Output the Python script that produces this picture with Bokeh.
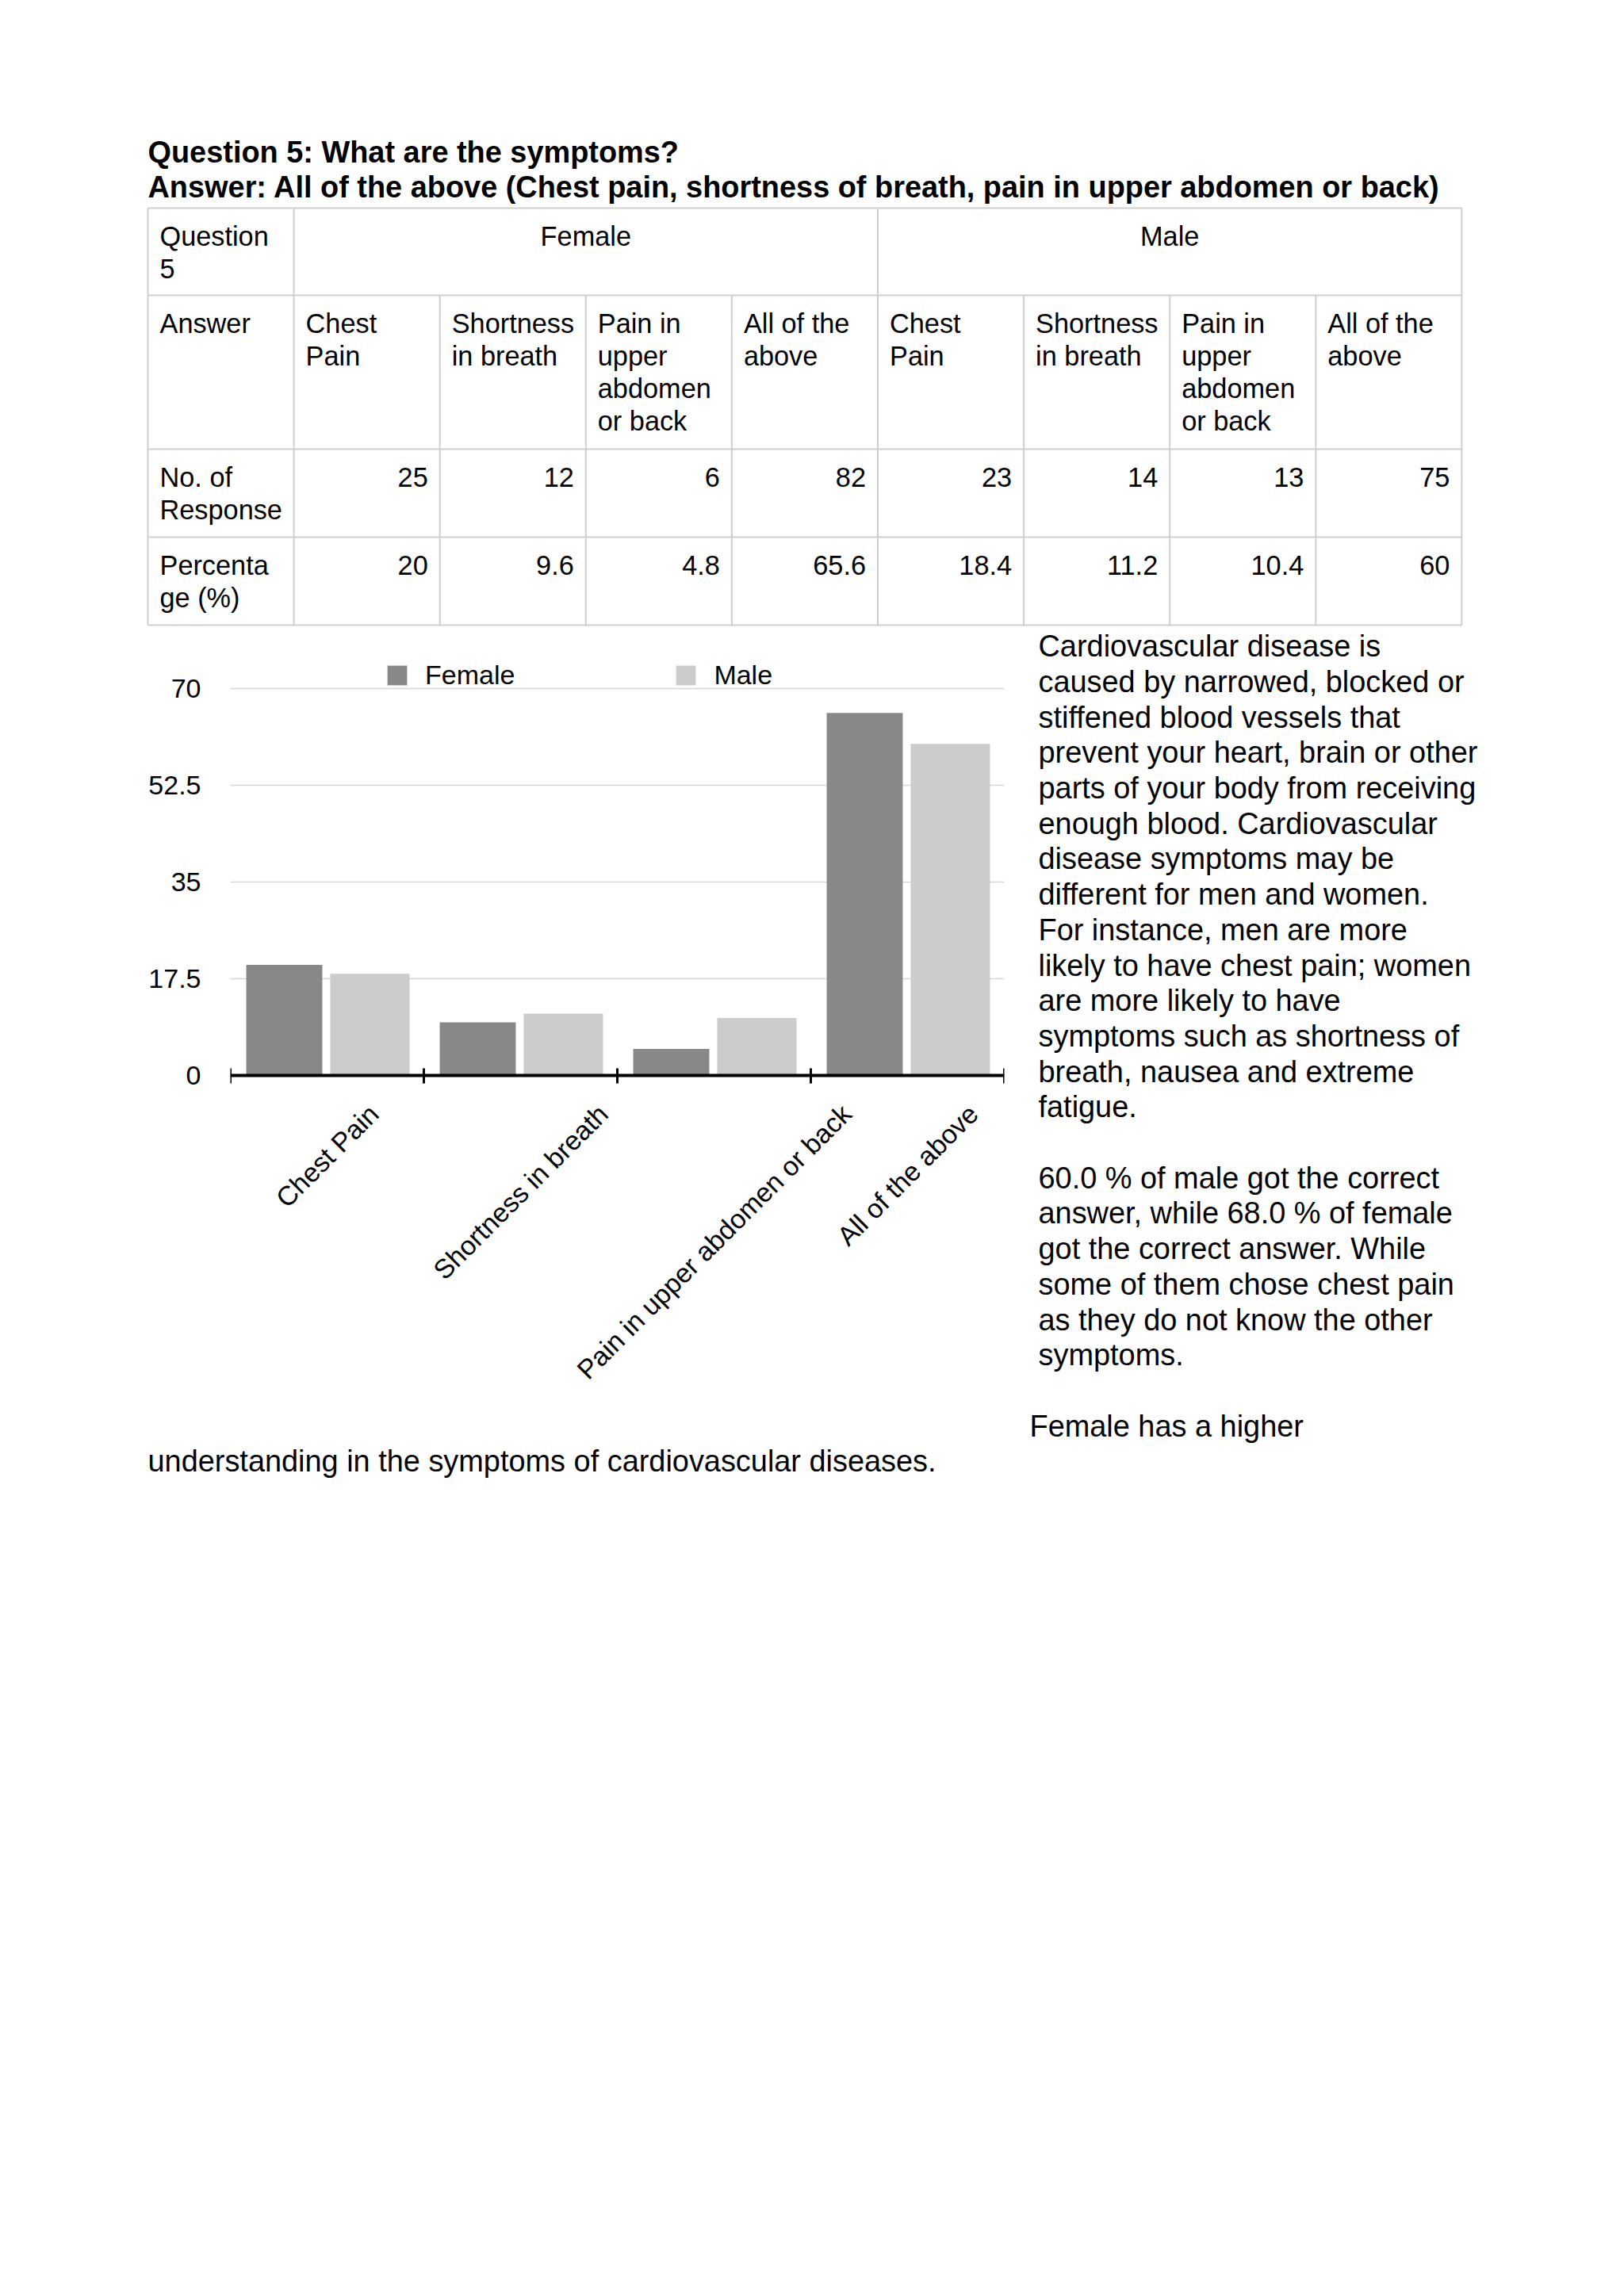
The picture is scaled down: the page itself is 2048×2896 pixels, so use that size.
import math
from bokeh.plotting import figure
from bokeh.models import (Range1d, FixedTicker, LinearAxis, Legend, LegendItem,
                          NumeralTickFormatter, CustomJSTickFormatter)
from bokeh.layouts import column, row
from bokeh.embed import file_html
from bokeh.resources import INLINE
from bokeh.core.properties import value

# ---------------- data ----------------
categories = ["Chest Pain", "Shortness in breath",
              "Pain in upper abdomen or back", "All of the above"]
answer_cells = [["Chest", "Pain"], ["Shortness", "in breath"],
                ["Pain in", "upper", "abdomen", "or back"], ["All of the", "above"]]
series = ["Female", "Male"]
female_counts = [25, 12, 6, 82]
male_counts = [23, 14, 13, 75]
female_pct = [20, 9.6, 4.8, 65.6]
male_pct = [18.4, 11.2, 10.4, 60]
y_ticks = [0, 17.5, 35, 52.5, 70]
y_tick_labels = ["0", "17.5", "35", "52.5", "70"]

title_lines = ["Question 5: What are the symptoms?",
               "Answer: All of the above (Chest pain, shortness of breath, pain in upper abdomen or back)"]
right_lines = [
    "Cardiovascular disease is",
    "caused by narrowed, blocked or",
    "stiffened blood vessels that",
    "prevent your heart, brain or other",
    "parts of your body from receiving",
    "enough blood. Cardiovascular",
    "disease symptoms may be",
    "different for men and women.",
    "For instance, men are more",
    "likely to have chest pain; women",
    "are more likely to have",
    "symptoms such as shortness of",
    "breath, nausea and extreme",
    "fatigue.",
    "",
    "60.0 % of male got the correct",
    "answer, while 68.0 % of female",
    "got the correct answer. While",
    "some of them chose chest pain",
    "as they do not know the other",
    "symptoms.",
]
closing_1 = "Female has a higher"
closing_2 = "understanding in the symptoms of cardiovascular diseases."

# ---------------- styles / layout ----------------
FONT = "Liberation Sans"
BODY_PX = 37.9
SMALL_PX = 34.3
F_COLOR = "#888888"
M_COLOR = "#cccccc"
GRID_COLOR = "#d6d6d6"
RULE_COLOR = "#cfcfcf"

M = 0
PAGE_R = 2040
TOP_Y1 = 792
MID_Y1 = 1774
BOT_Y1 = 2800
SPLIT_X = 1280

LEFT_X = 186
BODY_BASE0 = 828
BODY_LH = 44.7
MID_RATIO = 0.35   # distance from baseline to em-box middle, in em


def page_fig(x0, x1, y0, y1):
    f = figure(width=int(x1 - x0), height=int(y1 - y0),
               x_range=Range1d(x0, x1), y_range=Range1d(y1, y0),
               output_backend="svg", toolbar_location=None,
               x_axis_location=None, y_axis_location=None,
               min_border=0, outline_line_color=None,
               border_fill_color="white", background_fill_color="white")
    f.grid.visible = False
    return f


def txt(f, xs, baselines, texts, size_px, align="left", bold=False):
    ys = [b - MID_RATIO * size_px for b in baselines]
    f.text(x=xs, y=ys, text=texts, text_font=value(FONT), text_font_size=f"{size_px}px",
           text_align=align, text_baseline="middle", text_color="black",
           text_font_style="bold" if bold else "normal")


# ---------------- top: title + table ----------------
top = page_fig(M, PAGE_R, M, TOP_Y1)
txt(top, [LEFT_X, LEFT_X], [205, 249], title_lines, BODY_PX, bold=True)

COL_X = [186 + 184.1 * k for k in range(10)]
ROW_Y = [262, 372, 566, 677, 788]
PAD = 15
FIRST = 48
LH = 41

hx0, hy0, hx1, hy1 = [], [], [], []
for y in ROW_Y:
    hx0.append(COL_X[0]); hx1.append(COL_X[-1]); hy0.append(y); hy1.append(y)
for k in [0, 1, 5, 9]:
    hx0.append(COL_X[k]); hx1.append(COL_X[k]); hy0.append(ROW_Y[0]); hy1.append(ROW_Y[1])
for k in range(10):
    hx0.append(COL_X[k]); hx1.append(COL_X[k]); hy0.append(ROW_Y[1]); hy1.append(ROW_Y[4])
top.segment(x0=hx0, y0=hy0, x1=hx1, y1=hy1, line_color=RULE_COLOR, line_width=2)

# row 0
txt(top, [COL_X[0] + PAD] * 2, [ROW_Y[0] + FIRST, ROW_Y[0] + FIRST + LH], ["Question", "5"], SMALL_PX)
txt(top, [(COL_X[1] + COL_X[5]) / 2, (COL_X[5] + COL_X[9]) / 2],
    [ROW_Y[0] + FIRST] * 2, series, SMALL_PX, align="center")
# row 1
ax, ay, at = [COL_X[0] + PAD], [ROW_Y[1] + FIRST], ["Answer"]
for g in range(2):
    for c, cell in enumerate(answer_cells):
        k = 1 + g * 4 + c
        for j, line in enumerate(cell):
            ax.append(COL_X[k] + PAD); ay.append(ROW_Y[1] + FIRST + LH * j); at.append(line)
txt(top, ax, ay, at, SMALL_PX)
# rows 2-3
txt(top, [COL_X[0] + PAD] * 4,
    [ROW_Y[2] + FIRST, ROW_Y[2] + FIRST + LH, ROW_Y[3] + FIRST, ROW_Y[3] + FIRST + LH],
    ["No. of", "Response", "Percenta", "ge (%)"], SMALL_PX)
nx, ny, nt = [], [], []
for r, vals in [(2, female_counts + male_counts), (3, female_pct + male_pct)]:
    for c, v in enumerate(vals):
        nx.append(COL_X[c + 2] - PAD); ny.append(ROW_Y[r] + FIRST); nt.append(f"{v:g}")
txt(top, nx, ny, nt, SMALL_PX, align="right")

# ---------------- chart ----------------
PX_Y0, PX_Y70 = 1356, 868
FR_L, FR_R, FR_T, FR_B = 290, 1266, TOP_Y1, MID_Y1
ppu = (PX_Y0 - PX_Y70) / y_ticks[-1]

p = figure(width=SPLIT_X - M, height=MID_Y1 - TOP_Y1,
           x_range=Range1d(0, len(categories)),
           y_range=Range1d(-(FR_B - PX_Y0) / ppu, y_ticks[-1] + (PX_Y70 - FR_T) / ppu),
           output_backend="svg", toolbar_location=None, x_axis_location=None,
           min_border_left=FR_L - M, min_border_right=SPLIT_X - FR_R,
           min_border_top=0, min_border_bottom=0,
           outline_line_color=None, border_fill_color="white", background_fill_color="white")

idx = list(range(len(categories)))
rf = p.vbar(x=[i + 0.5 - 0.2213 for i in idx], top=female_pct, width=0.393,
            fill_color=F_COLOR, line_color=None)
rm = p.vbar(x=[i + 0.5 + 0.2213 for i in idx], top=male_pct, width=0.41,
            fill_color=M_COLOR, line_color=None)

p.xgrid.visible = False
p.ygrid.ticker = FixedTicker(ticks=y_ticks)
p.ygrid.grid_line_color = GRID_COLOR
p.ygrid.grid_line_width = 1.5

ya = p.yaxis[0]
ya.ticker = FixedTicker(ticks=y_ticks)
ya.formatter = NumeralTickFormatter(format="0.[0]")
ya.major_label_overrides = {t: l for t, l in zip(y_ticks, y_tick_labels)}
ya.axis_line_color = None
ya.major_tick_line_color = None
ya.minor_tick_line_color = None
ya.major_tick_in = 0
ya.major_tick_out = 0
ya.major_label_standoff = 37
ya.major_label_text_font = FONT
ya.major_label_text_font_size = "34px"
ya.major_label_text_color = "black"

xa = LinearAxis(fixed_location=0, ticker=FixedTicker(ticks=list(range(len(categories) + 1))),
                formatter=CustomJSTickFormatter(code="return ''"),
                axis_line_color="black", axis_line_width=4,
                major_tick_line_color="black", major_tick_line_width=3,
                major_tick_in=9, major_tick_out=10, minor_tick_line_color=None,
                major_label_standoff=0)
p.add_layout(xa, "below")

# rotated category labels, bounding box centred under each category
CW = {'C': 722, 'h': 556, 'e': 556, 's': 500, 't': 278, ' ': 278, 'P': 667, 'a': 556,
      'i': 222, 'n': 556, 'S': 667, 'o': 556, 'r': 333, 'b': 556, 'u': 556, 'p': 556,
      'd': 556, 'm': 833, 'A': 667, 'l': 222, 'f': 278, 'v': 500, 'k': 500, 'c': 500}
fs = 34
gap = 34
offs = []
for c in categories:
    w = sum(CW.get(ch, 556) for ch in c) * fs / 1000.0
    offs.append(gap + (w + 0.716 * fs) / (2 * math.sqrt(2)))
p.text(x=[i + 0.5 for i in idx], y=[0] * len(idx), text=categories, y_offset=offs,
       angle=math.pi / 4, text_align="center", text_baseline="middle",
       text_font=value(FONT), text_font_size="34px", text_color="black")

legend = Legend(items=[LegendItem(label=series[0], renderers=[rf]),
                       LegendItem(label=series[1], renderers=[rm])],
                location=(195, FR_B - 871), orientation="horizontal",
                glyph_width=31, glyph_height=31, label_standoff=20, spacing=200,
                padding=0, margin=0, border_line_color=None, background_fill_alpha=0,
                label_text_font=FONT, label_text_font_size="34px", label_text_color="black")
p.add_layout(legend)

# ---------------- right text ----------------
rt = page_fig(SPLIT_X, PAGE_R, TOP_Y1, MID_Y1)
rx, ry, rtx = [], [], []
for k, line in enumerate(right_lines):
    if line:
        rx.append(1309); ry.append(BODY_BASE0 + BODY_LH * k); rtx.append(line)
txt(rt, rx, ry, rtx, BODY_PX)

# ---------------- bottom ----------------
bot = page_fig(M, PAGE_R, MID_Y1, BOT_Y1)
txt(bot, [1298, LEFT_X],
    [BODY_BASE0 + BODY_LH * (len(right_lines) + 1), BODY_BASE0 + BODY_LH * (len(right_lines) + 2)],
    [closing_1, closing_2], BODY_PX)

layout = column(top, row(p, rt), bot)
open("out.html", "w").write(file_html(layout, INLINE))
